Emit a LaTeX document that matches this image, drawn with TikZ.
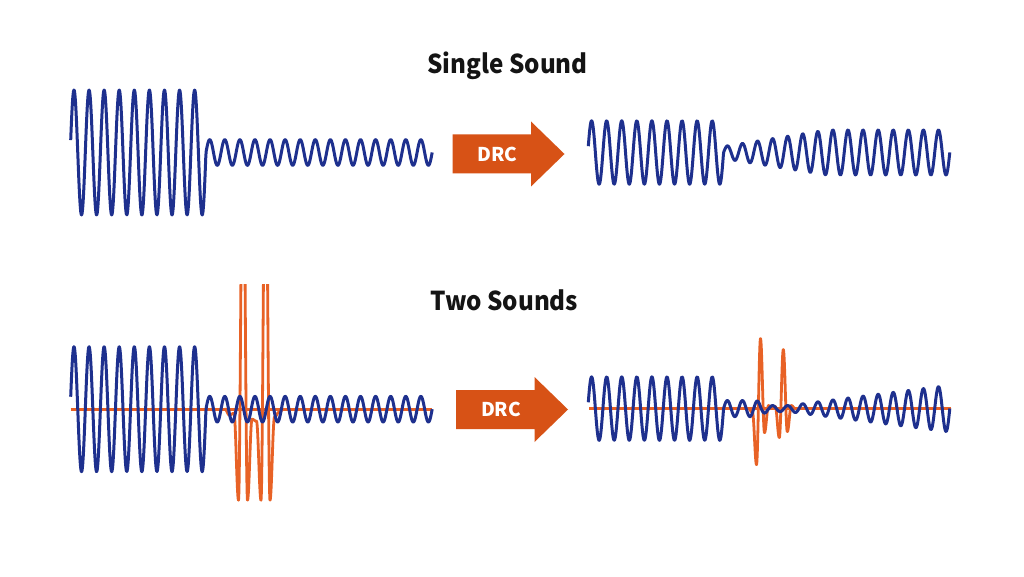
\documentclass[tikz,border=0pt]{standalone}
\usepackage{fontspec}
\newfontfamily\labelfont{Noto Sans CJK JP}
\newfontfamily\headfont{Noto Sans CJK JP}[FakeStretch=0.93]

\definecolor{waveblue}{RGB}{30,48,142}
\definecolor{burstorange}{RGB}{232,98,38}
\definecolor{drcorange}{RGB}{215,82,22}

\tikzset{
  bluewave/.style={draw=waveblue, line width=3pt, line join=round},
  orangewave/.style={draw=burstorange, line width=2.8pt, line join=round},
  drcfill/.style={fill=drcorange},
  drclabel/.style={text=white, font=\labelfont\bfseries\fontsize{19}{20}\selectfont},
  heading/.style={anchor=base, text=black!92, font=\headfont\bfseries\fontsize{26}{30}\selectfont}
}

\begin{document}
\begin{tikzpicture}[x=1pt, y=-1pt, samples=900, domain=0:361.5,
    declare function={
      ph(\u)=23.87*\u+11.5;
      ampA(\u)=(\u<135.25) ? 62.5 : 12.8;
      ampB(\u)=(\u<135.25) ? 31.7 : min(22.5, 6+0.16*(\u-135.25));
      ampC(\u)=(\u<135.25) ? 31.7 : max(3+0.126*max(\u-200,0), min(8, 8-0.42*(\u-168)));
      bmp(\d,\w)=(abs(\d)<\w)*cos(90*\d/\w)*cos(90*\d/\w);
      burstA(\u)=-6*bmp(\u-158.8,4.5)-4*bmp(\u-163.3,4.5)-91*bmp(\u-167.8,4.5)+300*bmp(\u-172.3,4.5)-91*bmp(\u-176.8,4.5)-10*bmp(\u-181.3,4.5)-12*bmp(\u-185.8,4.5)-91*bmp(\u-190.3,4.5)+300*bmp(\u-194.8,4.5)-91*bmp(\u-199.3,4.5)-8*bmp(\u-203.8,4.5)-3*bmp(\u-208.3,4.5);
      burstB(\u)=-4*bmp(\u-164.2,4)-56*bmp(\u-168.2,4)+70*bmp(\u-172.2,4)-24*bmp(\u-176.2,4)+3*bmp(\u-180.2,4)+2*bmp(\u-187,4)-29*bmp(\u-191,4)+59*bmp(\u-195,4)-23*bmp(\u-199,4)+3*bmp(\u-203,4);
    }]
  \fill[white] (0,0) rectangle (1024,577);

  \node[heading] (single) at (507.5,73.3) {Single Sound};
  \node[heading] (two) at (504.2,310.7) {Two Sounds};

  % single sound: before / after
  \begin{scope}[shift={(70.7,152.5)}]
    \draw[bluewave] plot (\x, {-ampA(\x)*sin(ph(\x))});
  \end{scope}
  \begin{scope}[shift={(588.3,152.5)}]
    \draw[bluewave] plot (\x, {-ampB(\x)*sin(ph(\x))});
  \end{scope}

  % two sounds: before / after
  \begin{scope}[shift={(70.7,409.2)}]
    \draw[orangewave] (0,0) -- (361,0);
    \begin{scope}
      \clip (-10,-125) rectangle (380,120);
      \draw[orangewave] plot[domain=154:213, samples=300] (\x, {-burstA(\x)});
    \end{scope}
    \draw[bluewave] plot (\x, {-ampA(\x)*sin(ph(\x))});
  \end{scope}
  \begin{scope}[shift={(588.3,408.6)}]
    \draw[orangewave] (0.7,0) -- (362.4,0);
    \draw[orangewave] plot[domain=158:209, samples=300] (\x, {-burstB(\x)});
    \draw[bluewave] plot (\x, {-ampC(\x)*sin(ph(\x))});
  \end{scope}

  % DRC arrows
  \foreach \ax/\ay/\nm in {452.5/154/drcTop, 456/409.5/drcBottom}{
    \fill[drcfill] (\ax,\ay-19.5) -- ++(78.5,0) -- ++(0,-13) -- ++(33.5,32.5)
      -- ++(-33.5,32.5) -- ++(0,-13) -- ++(-78.5,0) -- cycle;
    \node[drclabel] (\nm) at (\ax+45,\ay) {DRC};
  }
\end{tikzpicture}
\end{document}
